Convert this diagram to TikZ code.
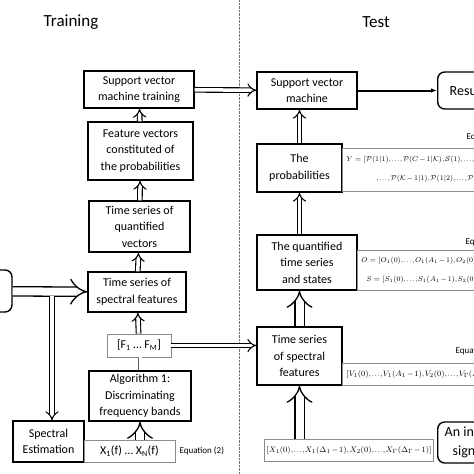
\documentclass[tikz,border=0pt]{standalone}
\usepackage{amsmath}
\usepackage{fontspec}
\setmainfont{Carlito}
\usetikzlibrary{arrows.meta,calc}
\newcommand\eqsetup{\fontsize{7.5}{19}\selectfont\thinmuskip=1mu\relax\medmuskip=2mu\relax}

\begin{document}
\begin{tikzpicture}[x=1pt,y=-1pt,
      box/.style={draw, line width=1.4pt, align=center, font=\fontsize{12}{16.5}\selectfont, inner sep=0pt},
      rbox/.style={box, rounded corners=7pt, font=\fontsize{14}{19}\selectfont},
      eqbox/.style={draw=black!45, line width=0.8pt, align=left, font=\eqsetup, inner xsep=4pt, inner ysep=0pt},
      eqlab/.style={font=\fontsize{9}{10}\selectfont, anchor=west},
      title/.style={font=\fontsize{17}{20}\selectfont},
      dbl/.style={double, double distance=3.5pt, line width=1.1pt, -{Implies}},
      wide/.style={double, double distance=8pt, line width=1.3pt, -{Implies}},
      arr/.style={-{Latex[length=6pt]}, line width=2pt}
    ]
    \useasboundingbox (0,0) rectangle (474,474);
    \clip (0,0) rectangle (474,474);
    \draw[densely dotted, black!55] (239,0) -- (239,474);
    \node[title] (train) at (71,22) {Training};
    \node[title] (test) at (376,22) {Test};
    % training side
    \node[rbox, minimum width=124pt, minimum height=42pt] (sigl) at (-50,291) {};
    \node[box, minimum width=110pt, minimum height=37pt] (svmt) at (139,89.5) {Support vector\\machine training};
    \node[box, minimum width=105pt, minimum height=58pt] (featvec) at (140.5,151) {Feature vectors\\constituted of\\the probabilities};
    \node[box, minimum width=101pt, minimum height=51pt] (quantvec) at (139.5,226.5) {Time series of\\quantified\\vectors};
    \node[box, minimum width=98pt, minimum height=40pt] (specfeat) at (137,292) {Time series of\\spectral features};
    \node[eqbox, font=\fontsize{12}{14}\selectfont, minimum width=64pt, minimum height=23pt, align=center] (fbox) at (139,345.5) {[F\textsubscript{1} \dots\ F\textsubscript{M}]};
    \node[box, minimum width=102pt, minimum height=50pt] (algo) at (140,396) {Algorithm 1:\\Discriminating\\frequency bands};
    \node[box, minimum width=71pt, minimum height=41pt] (specest) at (48.5,441.5) {Spectral\\Estimation};
    \node[eqbox, font=\fontsize{12}{14}\selectfont, minimum width=91pt, minimum height=22pt, align=center] (xbox) at (129.5,451) {X\textsubscript{1}(f) \dots\ X\textsubscript{N}(f)};
    \node[eqlab] (eq2) at (176,451) {Equation (2)};
    % test side
    \node[box, minimum width=100pt, minimum height=37pt] (svm) at (307,90.5) {Support vector\\machine};
    \node[rbox, anchor=west, minimum height=37pt, inner xsep=12pt] (result) at (437,90.5) {Result};
    \node[box, minimum width=85pt, minimum height=48pt] (prob) at (299.5,168) {The\\probabilities};
    \node[eqbox, anchor=west, minimum width=140pt, minimum height=43pt] (probeq) at (342,169.5)
      {$Y=[\mathcal{P}(1|1),\ldots,\mathcal{P}(C-1|\mathcal{K}),\mathcal{S}(1),\ldots,\mathcal{S}(\mathcal{K}),\ldots$\\
       \hspace{30pt}$,\ldots,\mathcal{P}(\mathcal{K}-1|1),\mathcal{P}(1|2),\ldots,\mathcal{P}(\mathcal{K}-1|\mathcal{K})]$};
    \node[eqlab] (eqy) at (463,137) {Equation};
    \node[box, minimum width=100pt, minimum height=55pt] (quant) at (307,262.5) {The quantified\\time series\\and states};
    \node[eqbox, anchor=west, minimum width=130pt, minimum height=40pt] (quanteq) at (357,270)
      {$O=[O_1(0),\ldots,O_1(A_1-1),O_2(0),\ldots]$\\
       \hspace{5pt}$S=[S_1(0),\ldots,S_1(A_1-1),S_2(0),\ldots]$};
    \node[eqlab] (eqo) at (462,242) {Equation};
    \node[box, minimum width=85pt, minimum height=58pt] (tspec) at (299.5,356) {Time series\\of spectral\\features};
    \node[eqbox, anchor=west, minimum width=140pt, minimum height=22pt, font=\eqsetup\fontsize{8.5}{10}\selectfont] (tspeceq) at (342,374)
      {$[V_1(0),\ldots,V_1(A_1-1),V_2(0),\ldots,V_\Gamma(A_\Gamma-1)]$};
    \node[eqlab] (eqv) at (452,351) {Equation};
    \node[eqbox, minimum width=168pt, minimum height=22pt, align=center, inner xsep=2pt, font=\eqsetup\fontsize{8.5}{10}\selectfont] (xbig) at (349,450)
      {$[X_1(0),\ldots,X_1(\Delta_1-1),X_2(0),\ldots,X_\Gamma(\Delta_\Gamma-1)]$};
    \node[rbox, anchor=west, minimum height=41pt, inner xsep=7pt] (sigr) at (437,442.5) {An input\\signal};
    % connectors
    \foreach \a/\b in {featvec/svmt, quantvec/featvec, specfeat/quantvec, fbox/specfeat} { \draw[dbl] (\a) -- (\b); }
    \draw[dbl] (svmt) -- (svm);
    \draw[dbl] (fbox.east) -- (fbox.east -| tspec.west);
    \draw[double, double distance=3pt, line width=0.6pt, black!60] (algo.south |- fbox.south) -- (algo.north);
    \draw[wide] (algo.south |- xbox.north) -- (algo.south);
    \draw[wide] (sigl) -- (specfeat);
    \coordinate (split) at (52,296);
    \draw[dbl] (split) -- (split |- specest.north);
    \draw[dbl] (prob) -- (prob |- svm.south);
    \draw[dbl] (quant.north -| prob) -- (prob);
    \draw[wide] (tspec) -- (tspec |- quant.south);
    \draw[wide] (tspec |- xbig.north) -- (tspec);
    \draw[arr] (svm) -- (result);
  \end{tikzpicture}
\end{document}
